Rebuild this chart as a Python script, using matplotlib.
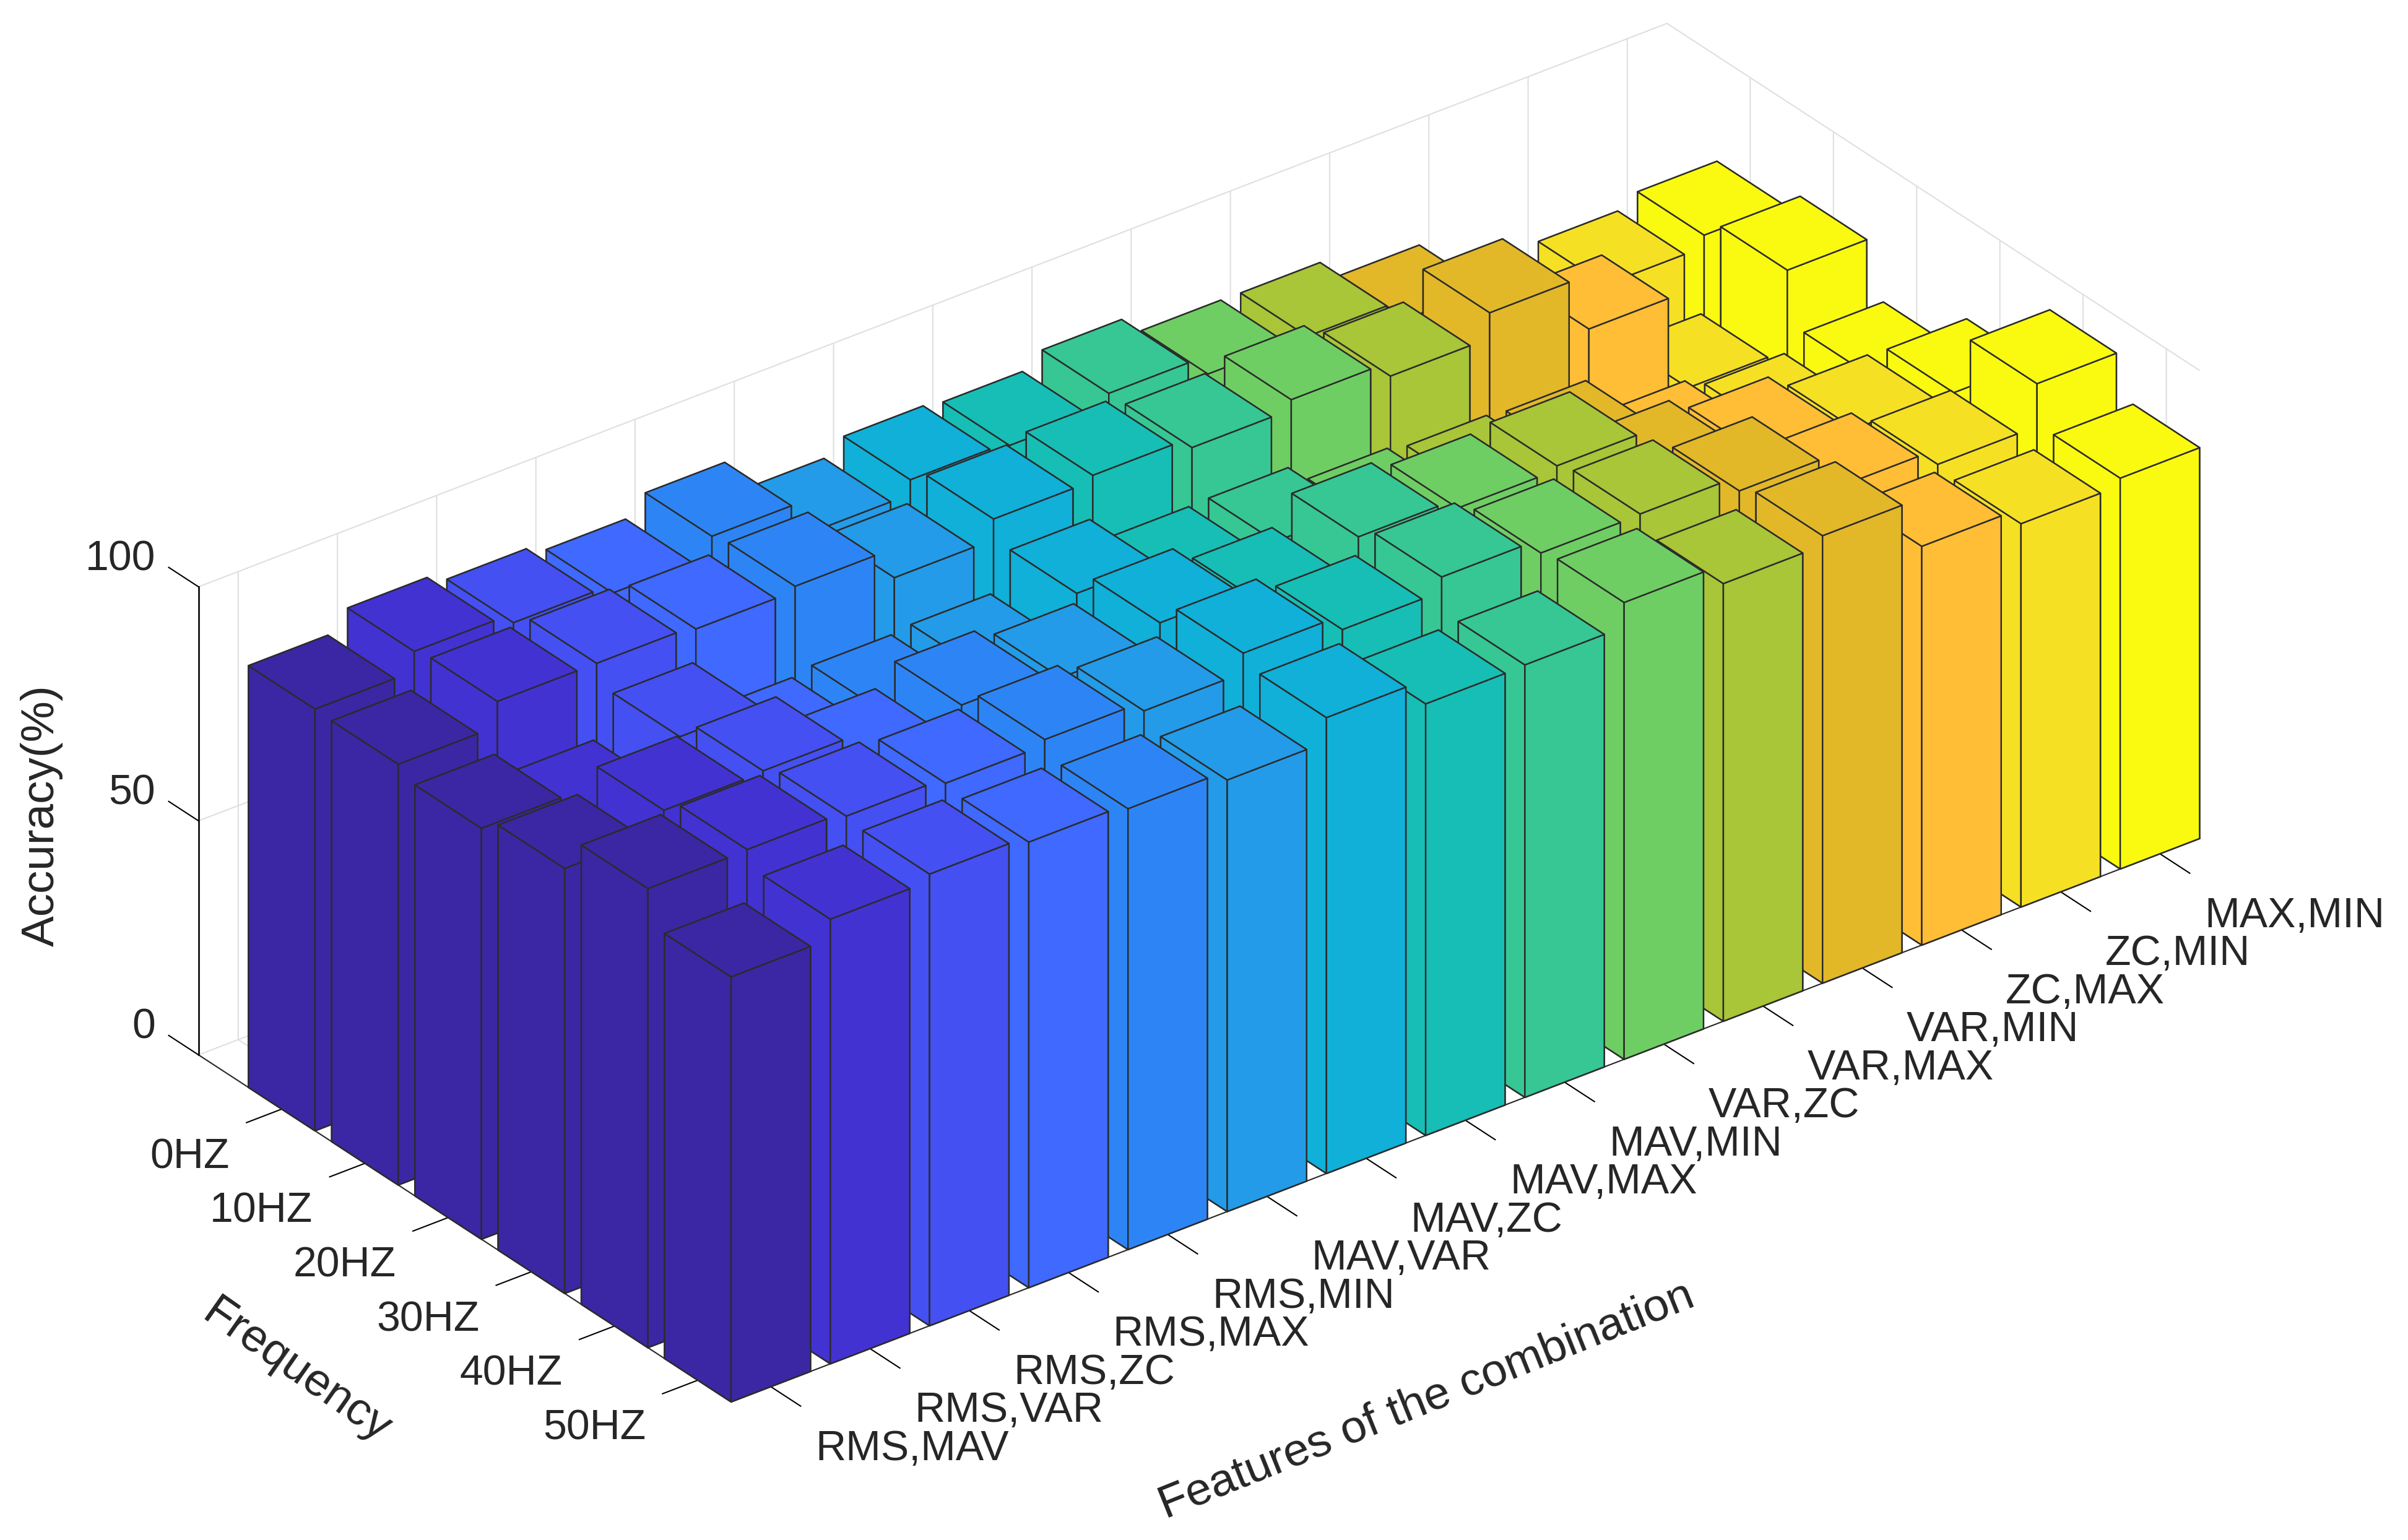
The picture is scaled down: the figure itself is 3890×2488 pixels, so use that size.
import matplotlib
matplotlib.use("Agg")
import matplotlib.pyplot as plt
from matplotlib.transforms import Affine2D

plt.rcParams['font.family'] = ['Liberation Sans', 'DejaVu Sans']

features = ['RMS,MAV', 'RMS,VAR', 'RMS,ZC', 'RMS,MAX', 'RMS,MIN', 'MAV,VAR', 'MAV,ZC', 'MAV,MAX',
            'MAV,MIN', 'VAR,ZC', 'VAR,MAX', 'VAR,MIN', 'ZC,MAX', 'ZC,MIN', 'MAX,MIN']
frequencies = ['0HZ', '10HZ', '20HZ', '30HZ', '40HZ', '50HZ']
hz0 = [90.1, 94.3, 92.3, 90.5, 94.5, 87.2, 90.3, 89.5, 92.5, 88.5, 88.4, 84.0, 72.0, 75.0, 77.5]
hz10 = [89.9, 95.2, 95.2, 94.4, 95.4, 89.1, 93.5, 94.7, 92.5, 94.6, 91.5, 96.9, 85.3, 64.6, 81.6]
hz20 = [87.8, 82.7, 91.1, 79.8, 80.8, 81.4, 89.2, 83.8, 84.0, 80.0, 78.9, 78.2, 70.0, 67.7, 70.6]
hz30 = [90.8, 95.1, 95.4, 89.0, 93.2, 90.9, 94.5, 90.9, 96.6, 94.6, 95.5, 85.5, 82.4, 79.0, 78.6]
hz40 = [98.1, 98.3, 97.3, 96.2, 97.4, 95.4, 99.6, 96.5, 99.6, 96.6, 96.8, 93.6, 86.3, 83.0, 92.1]
hz50 = [90.8, 95.0, 96.5, 95.2, 94.2, 92.2, 97.4, 92.2, 92.4, 97.6, 93.5, 95.6, 85.2, 81.9, 83.5]
rows = [hz0, hz10, hz20, hz30, hz40, hz50]
colors = ['#3B27A3', '#4332D2', '#4450F2', '#3F69FF', '#2D85F5', '#239BE8', '#10B0D8', '#17BEB5',
          '#36C794', '#6FCE63', '#A9C538', '#E2B829', '#FFBE35', '#F6E024', '#FAFA10']

W, H = 3890, 2488
TXT = '#262626'
fig = plt.figure(figsize=(W / 250, H / 250), dpi=250)
side = 2488
cx, cy = 1903.4, 1303.0
ax = fig.add_axes([(cx - side / 2) / W, (cy - side / 2) / H, side / W, side / H],
                  projection='3d', computed_zorder=False)
ax.set_proj_type('ortho')
ax.view_init(elev=30, azim=-127.5)
ax.set_box_aspect((2989.5, 1413, 873), zoom=1.3347)
ax.patch.set_alpha(0)

bw = 0.8
for r, row in enumerate(rows):
    y = r + 1
    for c in range(len(features) - 1, -1, -1):
        x = c + 1
        bar = ax.bar3d(x - bw / 2, y - bw / 2, 0, bw, bw, row[c], color=colors[c], shade=False,
                       edgecolor='#2b2b2b', linewidth=0.7, zorder=10 + r * 20 + (14 - c))
        bar.set_clip_on(False)

ax.set_xlim(0.6, 15.4, view_margin=0)
ax.set_ylim(6.4, 0.0, view_margin=0)
ax.set_zlim(0, 100, view_margin=0)

ax.set_xticks(range(1, 16))
ax.set_xticklabels(features, ha='left', va='top', fontsize=19.6, color=TXT)
ax.set_yticks(range(1, 7))
ax.set_yticklabels(frequencies, ha='right', va='top', fontsize=19.6, color=TXT)
ax.set_zticks([0, 50, 100])
ax.set_zticklabels(['0', '50', '100'], ha='right', va='center', fontsize=19.6, color=TXT)
ax.tick_params(axis='x', pad=14)
ax.tick_params(axis='y', pad=6)
ax.tick_params(axis='z', pad=2)

ax.zaxis._get_tickdir = lambda pos: 1


def nudge_labels(axis, dx, dy):
    base = axis.get_major_ticks

    def shifted(numticks=None):
        ticks = base(numticks)
        for t in ticks:
            t.label1.set_transform(ax.transData + Affine2D().translate(dx, dy))
        return ticks

    axis.get_major_ticks = shifted


nudge_labels(ax.xaxis, 21, 9)
nudge_labels(ax.yaxis, 5, 17)
nudge_labels(ax.zaxis, 17, 54)

for axis, inw, outw in ((ax.xaxis, 0.7, 0.0), (ax.yaxis, 0.3, 0.0), (ax.zaxis, 0.0, 0.7)):
    axis.set_pane_color((1, 1, 1, 0))
    axis.pane.set_edgecolor('none')
    axis.line.set_color(TXT)
    axis.line.set_linewidth(0.6)
    axis._axinfo['grid'].update(color='#dfdfdf', linewidth=0.6)
    axis._axinfo['tick'].update(inward_factor=inw, outward_factor=outw)
    axis._axinfo['tick']['linewidth'] = {True: 0.6, False: 0.6}
    axis._axinfo['tick']['color'] = TXT
ax.zaxis.line.set_color('#111111')
ax.zaxis.line.set_linewidth(0.8)

fig.text(922 / 1556, 1 - 905 / 995.2, 'Features of the combination', fontsize=21.5, color=TXT,
         rotation=21.9, ha='center', va='center', rotation_mode='anchor')
fig.text(191.5 / 1556, 1 - 886.5 / 995.2, 'Frequency', fontsize=21.5, color=TXT,
         rotation=-35, ha='center', va='center', rotation_mode='anchor')
fig.text(27 / 1556, 1 - 527 / 995.2, 'Accuracy(%)', fontsize=21.5, color=TXT,
         rotation=90, ha='center', va='center', rotation_mode='anchor')

fig.savefig('out.png', dpi=250, facecolor='white')
